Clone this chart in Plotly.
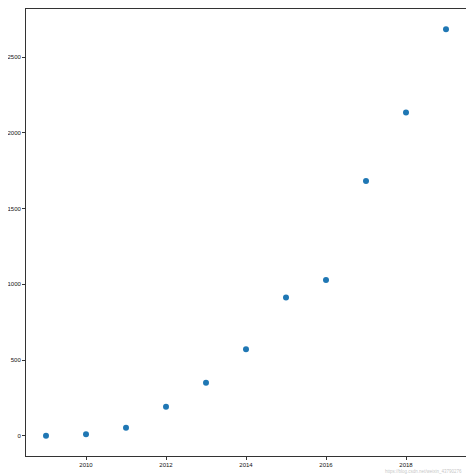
import plotly.graph_objects as go

years = [2009, 2010, 2011, 2012, 2013, 2014, 2015, 2016, 2017, 2018, 2019]
sales = [0.5, 9.36, 52, 191, 350, 571, 912, 1028, 1682, 2135, 2684]
x_ticks = [2010, 2012, 2014, 2016, 2018]
y_ticks = [0, 500, 1000, 1500, 2000, 2500]

fig = go.Figure()
fig.add_trace(go.Scatter(
    x=years, y=sales, mode="markers",
    marker=dict(color="#1f77b4", size=6, line=dict(width=0)),
    showlegend=False,
))

axis_common = dict(
    showgrid=False, zeroline=False, showline=True, mirror=True,
    linecolor="#333333", linewidth=1, automargin=False,
    ticks="outside", ticklen=3, tickwidth=0.8, tickcolor="#333333",
    tickfont=dict(family="Liberation Sans, Arial", size=6, color="#111111"),
    ticklabelstandoff=0,
)

# the page body has an 8px default margin, so the figure is sized to fit the window
fig.update_layout(
    width=466, height=466,
    margin=dict(l=18, r=8, t=1, b=18, autoexpand=False),
    paper_bgcolor="white", plot_bgcolor="white",
    xaxis=dict(range=[2008.5, 2019.5], tickvals=x_ticks,
               ticktext=[str(t) for t in x_ticks], **axis_common),
    yaxis=dict(range=[-134, 2818], tickvals=y_ticks,
               ticktext=[str(t) for t in y_ticks], **axis_common),
    annotations=[dict(
        text="https://blog.csdn.net/weixin_43790276",
        xref="paper", yref="paper", x=0.995, y=-0.0235,
        xanchor="right", yanchor="top", showarrow=False,
        font=dict(family="Liberation Sans, Arial", size=4.5, color="rgba(170,170,170,0.7)"),
    )],
)

fig.write_html("out.html")
